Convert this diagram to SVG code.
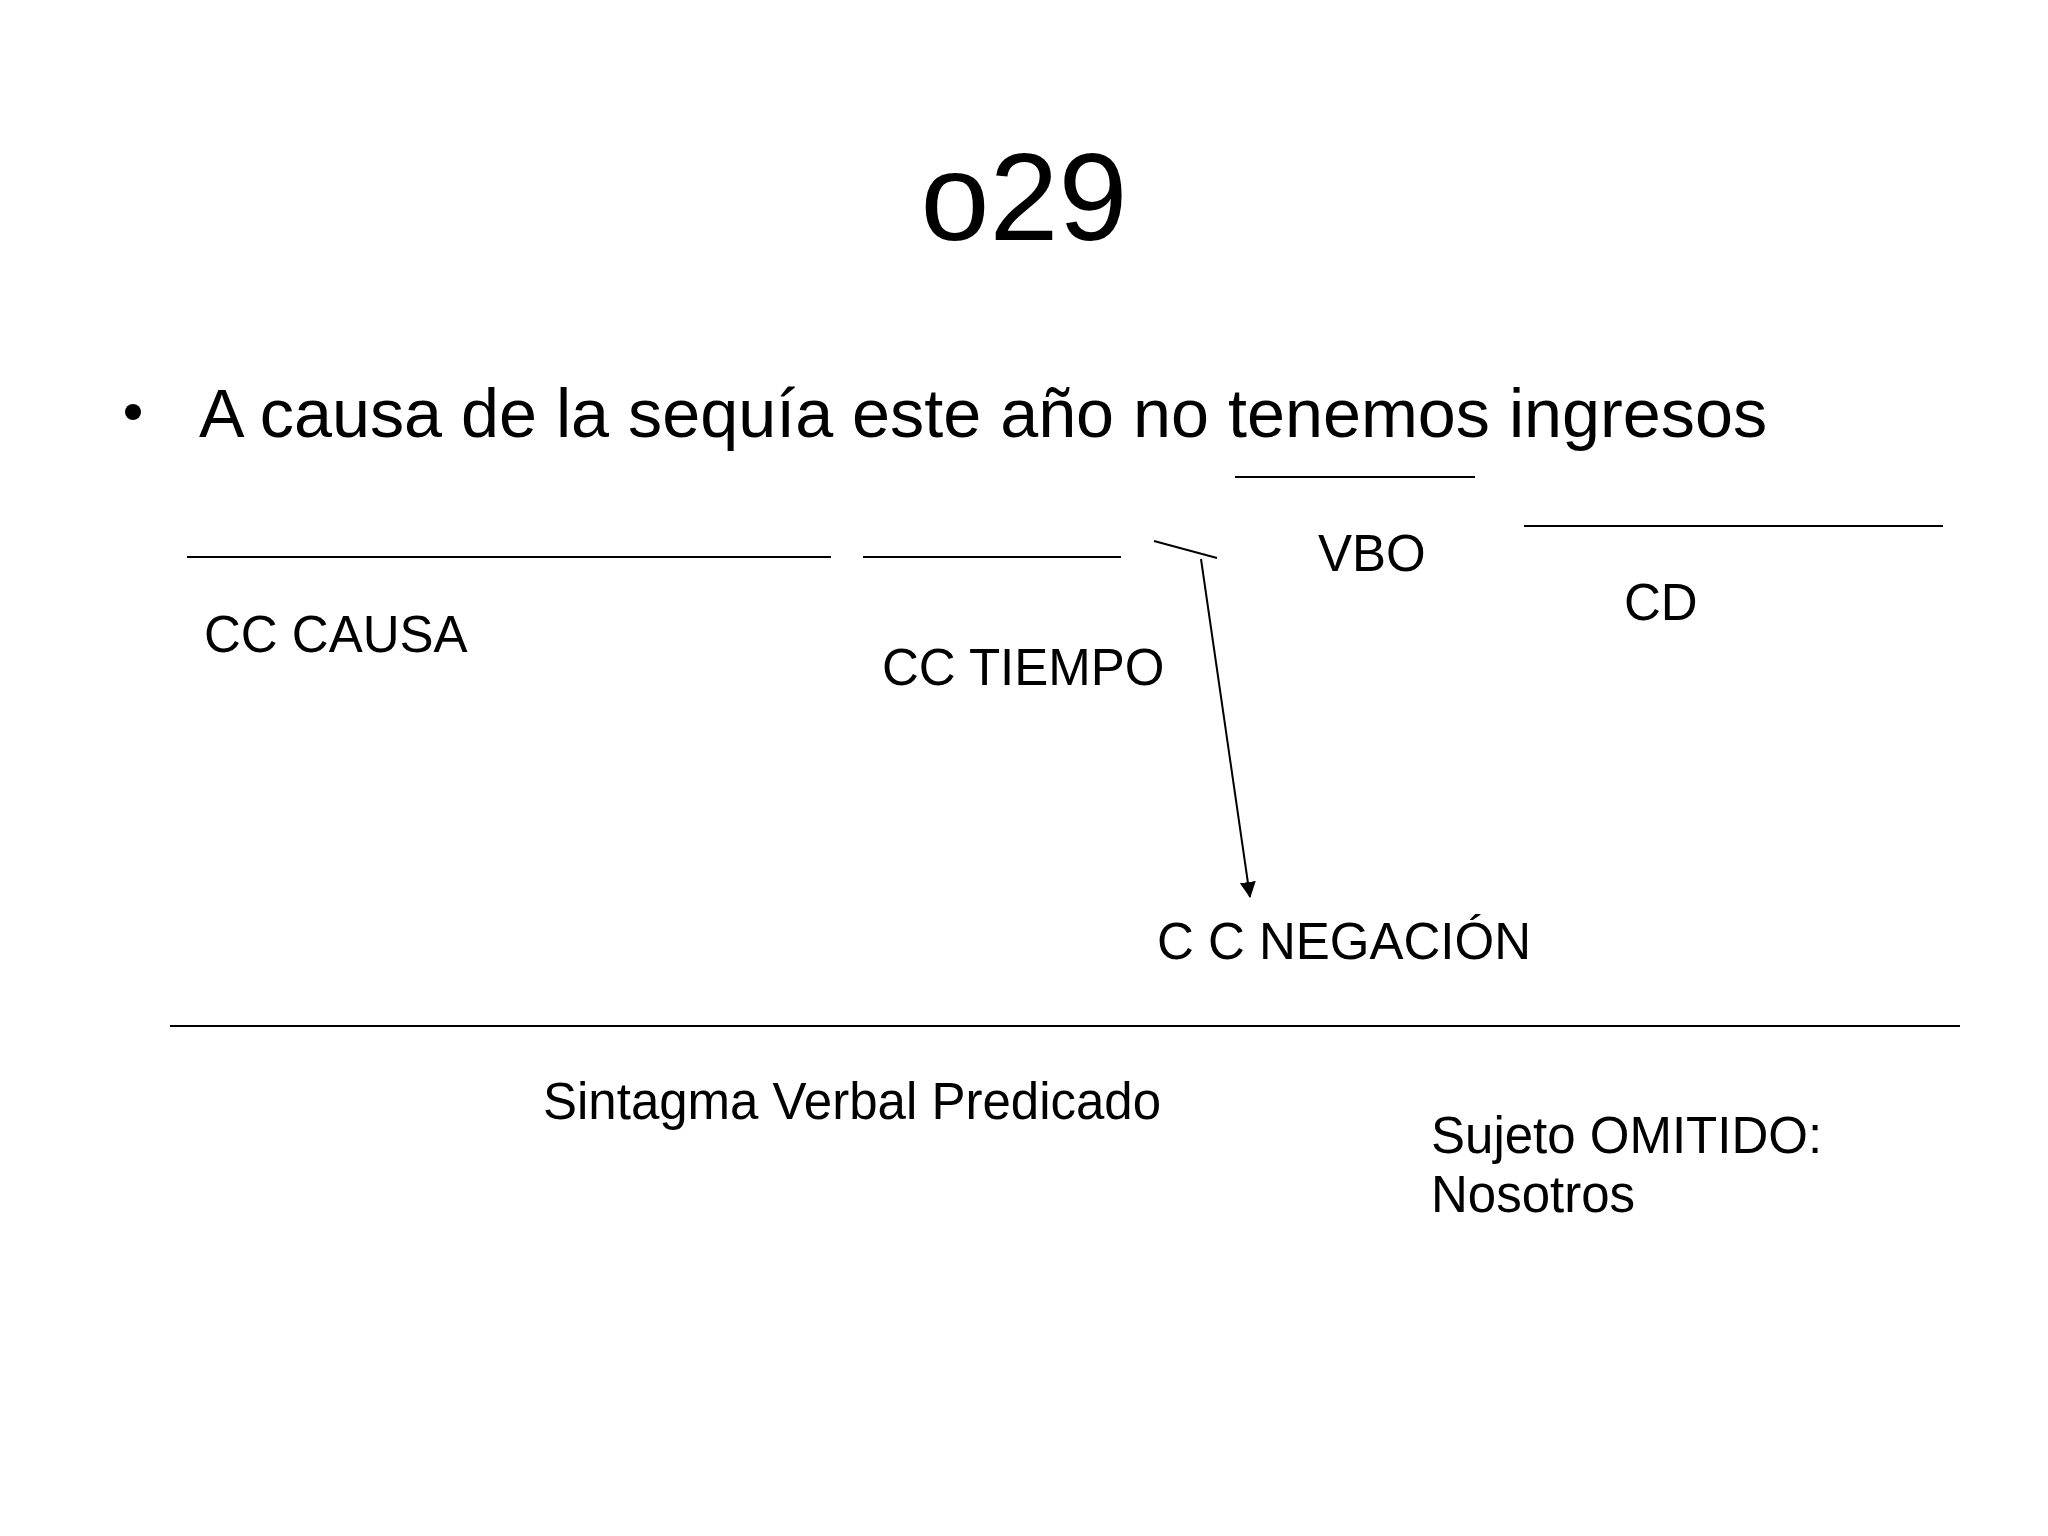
<svg xmlns="http://www.w3.org/2000/svg" width="2048" height="1536" viewBox="0 0 2048 1536">
<style>
text{font-family:"Liberation Sans",Arial,sans-serif;fill:#000}
.lbl{font-size:51px}
.ln{stroke:#000;stroke-width:2;fill:none}
</style>
<defs>
<marker id="ah" markerWidth="16" markerHeight="18" refX="15" refY="8" orient="auto" markerUnits="userSpaceOnUse" viewBox="0 0 16 16">
<path d="M0,0 L16,8 L0,16 z" fill="#000"/>
</marker>
</defs>
<rect width="2048" height="1536" fill="#fff"/>
<g id="title"><text x="1024" y="240" font-size="124" text-anchor="middle">o29</text></g>
<g id="sentence">
<circle cx="133" cy="412" r="8" fill="#000"/>
<text x="199" y="437" font-size="68.3">A causa de la sequía este año no tenemos ingresos</text>
</g>
<g id="connectors">
<line class="ln" x1="1235" y1="477" x2="1475" y2="477"/>
<line class="ln" x1="187" y1="557" x2="831" y2="557"/>
<line class="ln" x1="863" y1="557" x2="1121" y2="557"/>
<line class="ln" x1="1154" y1="541" x2="1217" y2="558"/>
<line class="ln" x1="1524" y1="526" x2="1943" y2="526"/>
<line class="ln" x1="170" y1="1026" x2="1960" y2="1026" stroke-width="2.5"/>
<line class="ln" x1="1201" y1="559" x2="1250" y2="897" marker-end="url(#ah)"/>
</g>
<g id="cc-causa"><text class="lbl" x="204" y="652">CC CAUSA</text></g>
<g id="cc-tiempo"><text class="lbl" x="882" y="685">CC TIEMPO</text></g>
<g id="vbo"><text class="lbl" x="1318" y="571">VBO</text></g>
<g id="cd"><text class="lbl" x="1624" y="620">CD</text></g>
<g id="cc-negacion"><text class="lbl" x="1157" y="959">C C NEGACIÓN</text></g>
<g id="predicado"><text class="lbl" x="543" y="1119">Sintagma Verbal Predicado</text></g>
<g id="sujeto"><text class="lbl" x="1431" y="1153">Sujeto OMITIDO:</text><text class="lbl" x="1431" y="1212">Nosotros</text></g>
</svg>
